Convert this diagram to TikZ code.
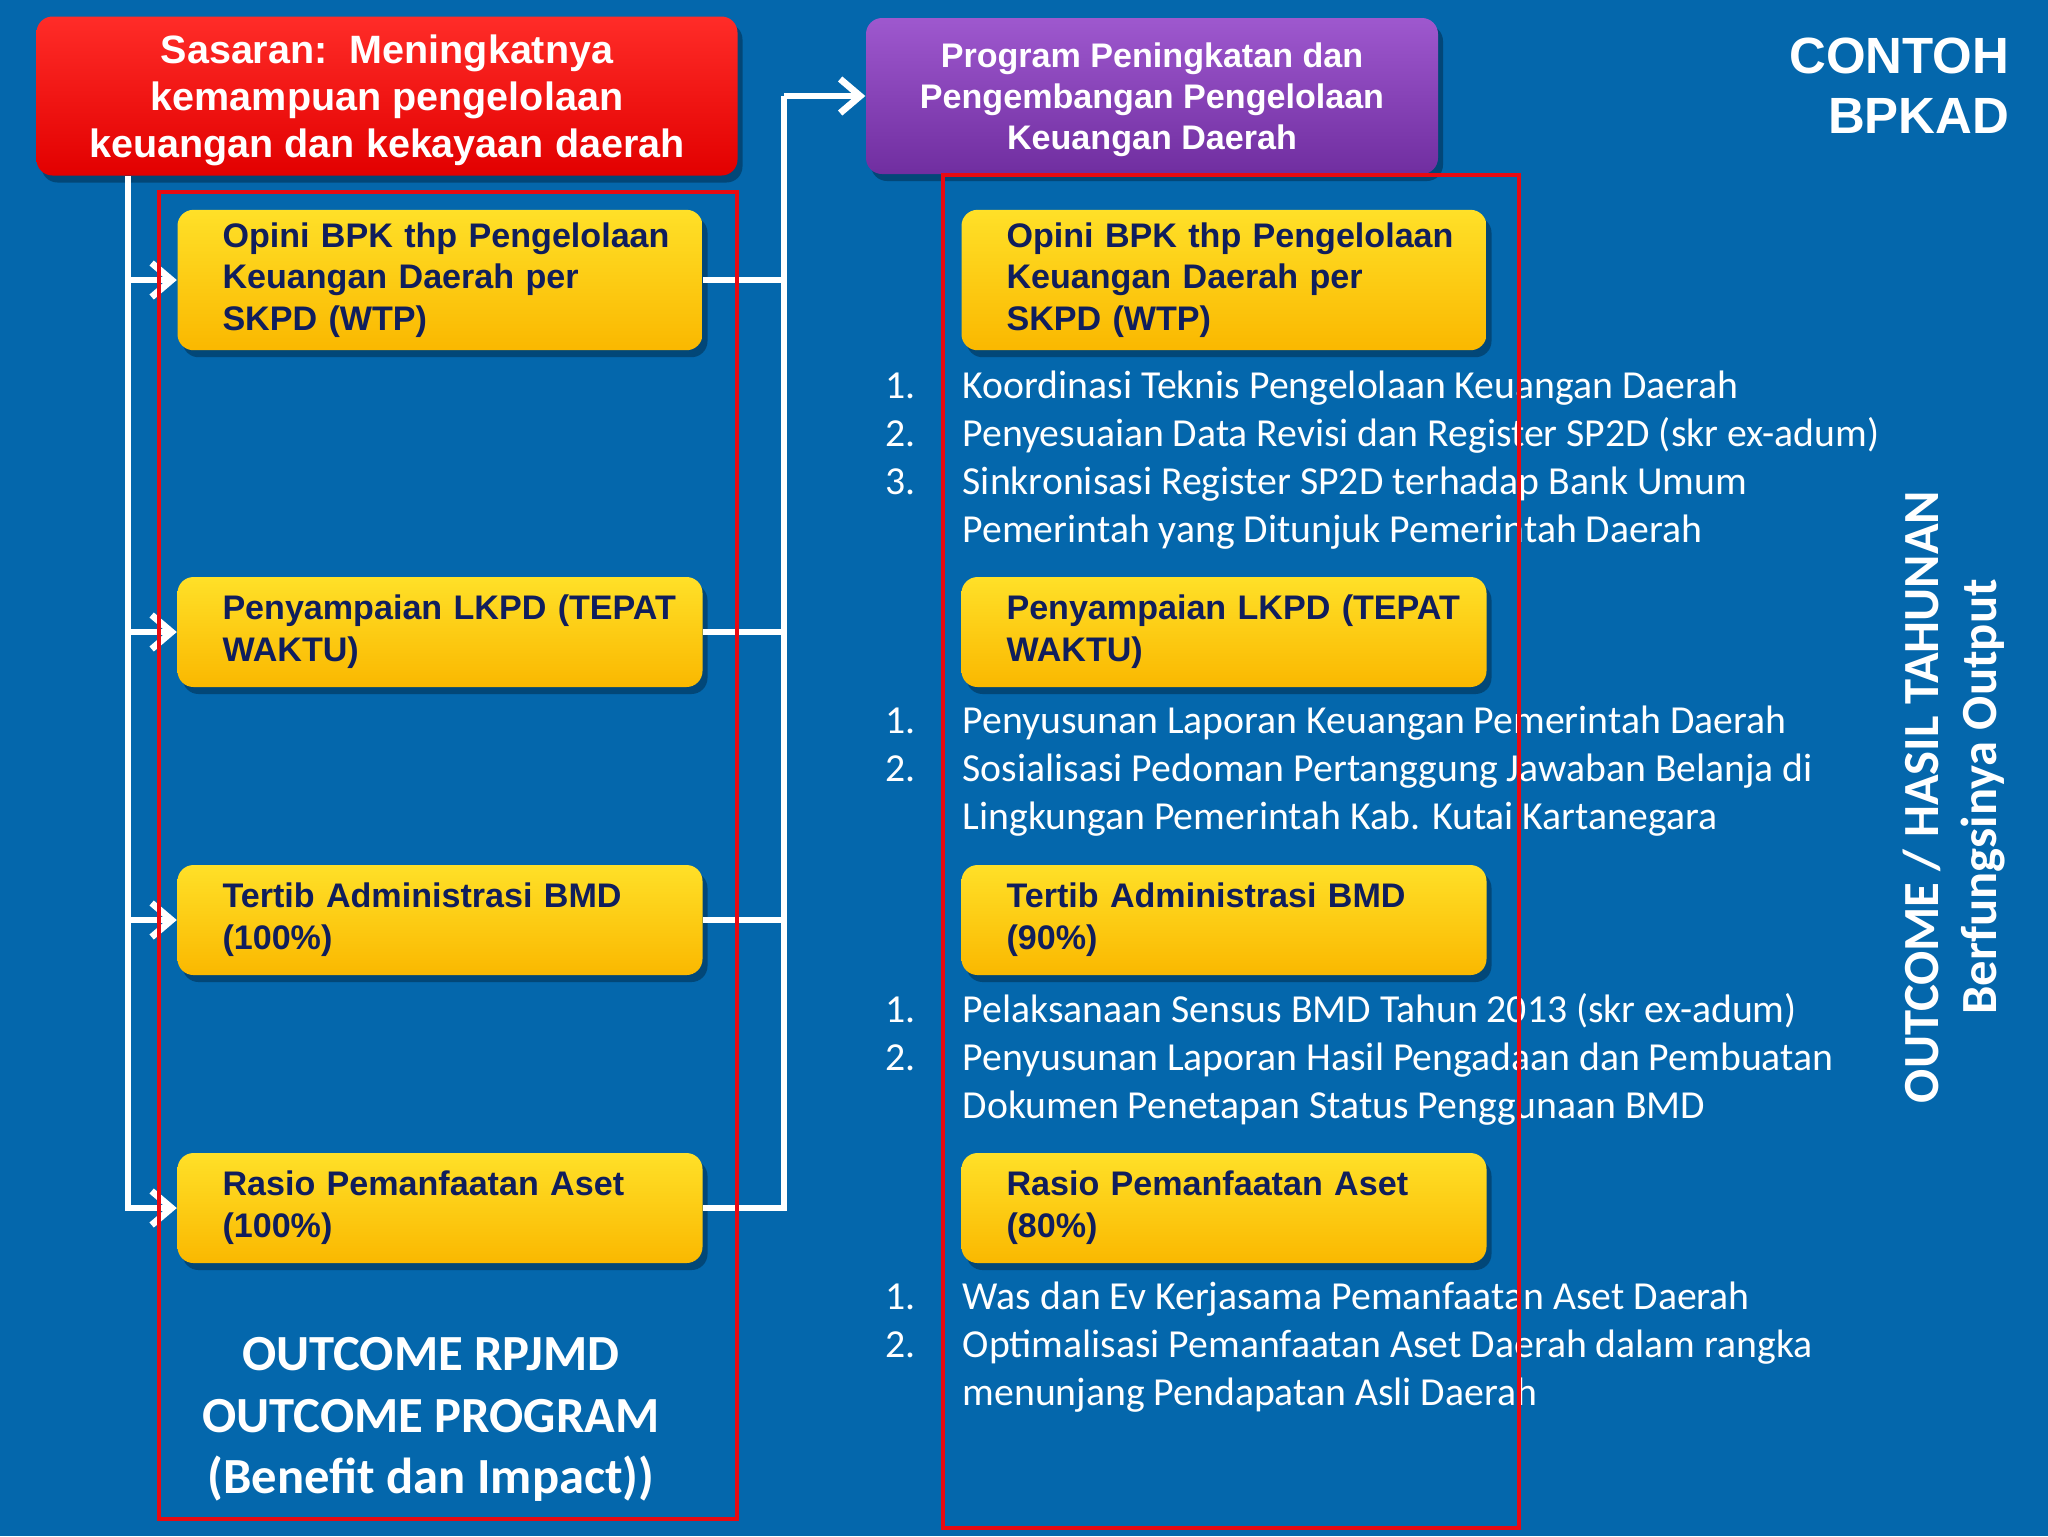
\documentclass[tikz,border=0pt]{standalone}
\usepackage{fontspec}
\setmainfont{Liberation Sans}
\newfontfamily\calibri{Carlito}
\usetikzlibrary{arrows.meta,shadows}
\definecolor{bgcol}{RGB}{4,103,172}
\definecolor{rcol}{RGB}{232,10,18}
\definecolor{rtop}{RGB}{255,44,40}
\definecolor{rbot}{RGB}{226,0,0}
\definecolor{ptop}{RGB}{158,88,206}
\definecolor{pbot}{RGB}{112,46,160}
\definecolor{ytop}{RGB}{255,224,40}
\definecolor{ybot}{RGB}{250,184,0}
\definecolor{ncol}{RGB}{16,30,92}
\tikzset{every picture/.style={x=0.1mm,y=-0.1mm}}
\tikzset{box/.style={rounded corners=1.6mm,drop shadow={fill=black,opacity=0.3,shadow xshift=0.5mm,shadow yshift=-0.7mm}}}
\tikzset{goal/.style={box,top color=rtop,bottom color=rbot,text=white,align=center,text depth=0pt,minimum width=70.1mm,minimum height=15.9mm,font=\bfseries\fontsize{11.25}{13.4}\selectfont}}
\tikzset{program/.style={box,top color=ptop,bottom color=pbot,text=white,align=center,text depth=0pt,minimum width=57.2mm,minimum height=15.6mm,font=\bfseries\fontsize{9.7}{11.6}\selectfont}}
\tikzset{target/.style={box,top color=ytop,bottom color=ybot,text=ncol,align=left,text width=52.5mm,inner xsep=0pt,inner ysep=1.25mm,minimum height=11mm,execute at begin node={\leftskip=4.5mm},font=\bfseries\fontsize{9.7}{11.9}\selectfont}}
\tikzset{frame/.style={draw=rcol,line width=1.1pt}}
\tikzset{link/.style={draw=white,line width=1.9pt}}
\tikzset{edge/.style={link,-{Straight Barb[length=2mm,width=3.4mm]}}}
\tikzset{item/.style={text=white,anchor=base west,inner sep=0pt,font=\calibri\fontsize{11.3}{13.6}\selectfont}}
\tikzset{title/.style={text=white,anchor=base east,inner sep=0pt,font=\bfseries\fontsize{14.5}{17}\selectfont}}
\tikzset{side/.style={text=white,anchor=base,inner sep=0pt,font=\calibri\bfseries\fontsize{14.4}{17.4}\selectfont}}

\begin{document}
\begin{tikzpicture}
\fill [bgcol] (0,0) rectangle (2048,1536);

\node [goal] (sas) at (387,96) {Sasaran:\ \ Meningkatnya\\kemampuan pengelolaan\\keuangan dan kekayaan daerah};
\node [program] (prog) at (1152,96) {Program Peningkatan dan\\Pengembangan Pengelolaan\\Keuangan Daerah};

\node [title] (contoh) at (2010,73) {CONTOH};
\node [title] (bpkad) at (2010,133) {BPKAD};

\node [target] (l1) at (440,280) {Opini BPK thp Pengelolaan\\Keuangan Daerah per\\SKPD (WTP)};
\node [target] (l2) at (440,632) {Penyampaian LKPD (TEPAT\\WAKTU)};
\node [target] (l3) at (440,920) {Tertib Administrasi BMD\\(100\%)};
\node [target] (l4) at (440,1208) {Rasio Pemanfaatan Aset\\(100\%)};

\node [target] (r1) at (1224,280) {Opini BPK thp Pengelolaan\\Keuangan Daerah per\\SKPD (WTP)};
\node [target] (r2) at (1224,632) {Penyampaian LKPD (TEPAT\\WAKTU)};
\node [target] (r3) at (1224,920) {Tertib Administrasi BMD\\(90\%)};
\node [target] (r4) at (1224,1208) {Rasio Pemanfaatan Aset\\(80\%)};

\coordinate (trunk) at (128,176);
\coordinate (bus) at (784,96);

\draw [edge] (trunk) |- (l4.west);
\draw [edge] (l1.west -| trunk) -- (l1.west);
\draw [edge] (l2.west -| trunk) -- (l2.west);
\draw [edge] (l3.west -| trunk) -- (l3.west);

\draw [link] (l4.east) -| (bus);
\draw [link] (l1.east) -- (l1.east -| bus);
\draw [link] (l2.east) -- (l2.east -| bus);
\draw [link] (l3.east) -- (l3.east -| bus);
\draw [edge] (bus) -- (prog.west);

\node [item] (n11) at (885,398) {1.};
\node [item] (n12) at (885,446) {2.};
\node [item] (n13) at (885,494) {3.};
\node [item] (t11) at (962,398) {Koordinasi Teknis Pengelolaan Keuangan Daerah};
\node [item] (t12) at (962,446) {Penyesuaian Data Revisi dan Register SP2D (skr ex-adum)};
\node [item] (t13) at (962,494) {Sinkronisasi Register SP2D terhadap Bank Umum};
\node [item] (t14) at (962,542) {Pemerintah yang Ditunjuk Pemerintah Daerah};

\node [item] (n21) at (885,733) {1.};
\node [item] (n22) at (885,781) {2.};
\node [item] (t21) at (962,733) {Penyusunan Laporan Keuangan Pemerintah Daerah};
\node [item] (t22) at (962,781) {Sosialisasi Pedoman Pertanggung Jawaban Belanja di};
\node [item] (t23) at (962,829) {Lingkungan Pemerintah Kab. Kutai Kartanegara};

\node [item] (n31) at (885,1022) {1.};
\node [item] (n32) at (885,1070) {2.};
\node [item] (t31) at (962,1022) {Pelaksanaan Sensus BMD Tahun 2013 (skr ex-adum)};
\node [item] (t32) at (962,1070) {Penyusunan Laporan Hasil Pengadaan dan Pembuatan};
\node [item] (t33) at (962,1118) {Dokumen Penetapan Status Penggunaan BMD};

\node [item] (n41) at (885,1309) {1.};
\node [item] (n42) at (885,1357) {2.};
\node [item] (t41) at (962,1309) {Was dan Ev Kerjasama Pemanfaatan Aset Daerah};
\node [item] (t42) at (962,1357) {Optimalisasi Pemanfaatan Aset Daerah dalam rangka};
\node [item] (t43) at (962,1405) {menunjang Pendapatan Asli Daerah};

\node [side] (rpjmd) at (431,1370) {OUTCOME RPJMD};
\node [side] (outprog) at (431,1432) {OUTCOME PROGRAM};
\node [side] (benefit) at (431,1493) {(Benefit dan Impact))};

\node [side,rotate=90] (hasil) at (1938,797) {OUTCOME / HASIL TAHUNAN};
\node [side,rotate=90] (fungsi) at (1996,797) {Berfungsinya Output};

\draw [frame] (159,192) rectangle (737,1519);
\draw [frame] (943,175) rectangle (1519,1528);
\end{tikzpicture}
\end{document}
